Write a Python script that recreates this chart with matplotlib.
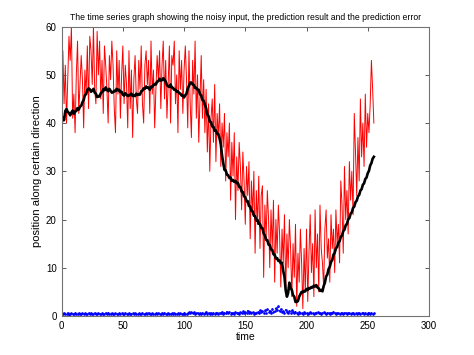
import numpy as np
import matplotlib
matplotlib.use("Agg")
import matplotlib.pyplot as plt

plt.rcParams["font.family"] = ["Liberation Sans", "DejaVu Sans"]

time = np.arange(256)

# noisy input (red)
noisy = [
    47, 55, 44, 52, 40, 49, 58, 53, 60, 41, 46, 38, 50, 57, 42, 48,
    54, 49, 39, 51, 46, 56, 43, 58, 55, 48, 60, 47, 44, 59, 50, 57,
    45, 53, 42, 56, 52, 47, 40, 54, 49, 57, 52, 43, 38, 55, 46, 53,
    41, 50, 56, 44, 52, 48, 39, 55, 43, 51, 37, 49, 54, 45, 42, 53,
    47, 56, 44, 40, 52, 55, 48, 53, 42, 57, 46, 51, 39, 47, 54, 49,
    55, 43, 52, 57, 45, 53, 41, 48, 56, 40, 54, 52, 57, 44, 50, 38,
    55, 47, 53, 42, 51, 56, 49, 39, 55, 44, 37, 53, 46, 57, 41, 50,
    36, 45, 54, 41, 49, 38, 47, 34, 44, 30, 41, 45, 36, 48, 32, 42,
    37, 44, 31, 40, 35, 42, 28, 38, 33, 40, 24, 36, 29, 38, 20, 33,
    26, 36, 31, 22, 34, 28, 19, 31, 25, 32, 16, 28, 21, 30, 13, 26,
    19, 29, 14, 25, 27, 8, 23, 16, 26, 20, 10, 22, 14, 24, 7, 20,
    13, 23, 17, 6, 18, 11, 21, 5, 17, 10, 20, 14, 4, 15, 8, 19,
    2, 13, 7, 18, 11, 1.5, 14, 5, 18, 3, 13, 21, 9, 15, 4, 22,
    10, 17, 5, 23, 14, 11, 6, 18, 22, 12, 16, 7, 21, 14, 18, 9,
    22, 15, 19, 11, 28, 23, 13, 31, 20, 26, 17, 32, 24, 30, 21, 42,
    34, 25, 37, 28, 45, 33, 40, 31, 46, 35, 42, 38, 44, 53, 47, 40,
]

# prediction result (black)
prediction = [
    40.0, 41.2, 40.6, 42.5, 42.9, 42.3, 42.1, 41.6, 42.2, 42.6, 41.9, 42.4, 42.5, 43.1, 42.8, 43.4,
    43.6, 44.3, 44.8, 45.8, 46.0, 46.9, 47.2, 47.0, 46.5, 46.7, 47.1, 46.3, 46.1, 45.4, 45.6, 45.5,
    46.2, 46.4, 47.0, 46.8, 47.4, 46.9, 46.6, 47.1, 46.7, 46.3, 46.4, 46.7, 46.6, 47.1, 46.8, 46.9,
    46.4, 46.5, 45.9, 45.7, 46.2, 45.9, 45.6, 45.7, 45.9, 46.1, 45.6, 45.8, 45.6, 46.1, 45.8, 46.0,
    45.9, 46.6, 46.7, 47.2, 47.1, 47.6, 47.3, 47.4, 46.9, 47.5, 47.5, 47.9, 48.1, 48.0, 48.6, 48.7,
    49.2, 48.8, 48.9, 49.3, 49.0, 48.6, 47.9, 47.6, 47.5, 48.0, 47.3, 47.3, 46.9, 46.9, 46.5, 46.6,
    46.2, 46.1, 45.7, 45.7, 45.3, 45.8, 46.1, 47.2, 47.7, 48.4, 48.4, 48.0, 47.9, 47.3, 47.3, 46.9,
    46.9, 46.0, 45.7, 44.8, 44.6, 43.8, 43.1, 41.8, 41.4, 40.3, 40.2, 39.3, 39.2, 38.4, 38.5, 37.8,
    37.7, 36.8, 35.6, 33.3, 31.7, 30.3, 30.2, 29.3, 29.2, 28.6, 28.7, 28.0, 28.2, 27.8, 28.0, 27.5,
    27.6, 26.8, 26.7, 25.8, 25.7, 24.8, 24.6, 23.8, 23.8, 22.8, 22.7, 21.8, 21.7, 20.8, 20.7, 19.8,
    19.9, 19.1, 19.1, 18.3, 18.2, 17.1, 16.7, 15.8, 15.7, 14.8, 14.7, 13.8, 13.7, 12.8, 12.7, 11.9,
    12.0, 11.4, 11.5, 10.9, 11.0, 9.3, 8.1, 5.3, 4.0, 4.8, 6.9, 5.8, 5.4, 4.3, 4.0, 2.9,
    2.9, 3.1, 4.0, 4.5, 5.0, 4.9, 5.2, 5.1, 5.6, 5.4, 5.8, 5.7, 6.0, 5.9, 6.3, 6.1,
    6.4, 5.9, 5.7, 5.2, 5.4, 5.1, 6.2, 6.9, 8.2, 8.6, 9.7, 10.2, 11.2, 11.6, 12.7, 13.1,
    14.0, 14.3, 15.2, 15.5, 16.4, 16.7, 17.6, 17.9, 18.8, 19.1, 20.0, 20.3, 21.2, 21.5, 22.4, 22.7,
    23.6, 23.9, 24.8, 25.1, 26.0, 26.3, 27.2, 27.5, 28.4, 28.7, 29.6, 30.1, 31.2, 31.7, 32.6, 33.0,
]

# prediction error (blue)
error = [
    0.6, 0.5, 0.7, 0.4, 0.5, 0.6, 0.3, 0.5, 0.6, 0.4, 0.5, 0.7, 0.4, 0.5, 0.6, 0.4,
    0.5, 0.6, 0.4, 0.7, 0.5, 0.4, 0.6, 0.5, 0.7, 0.4, 0.5, 0.6, 0.4, 0.5, 0.7, 0.5,
    0.4, 0.6, 0.5, 0.4, 0.6, 0.5, 0.7, 0.4, 0.5, 0.6, 0.4, 0.5, 0.6, 0.5, 0.4, 0.6,
    0.5, 0.7, 0.4, 0.5, 0.6, 0.4, 0.5, 0.6, 0.5, 0.4, 0.6, 0.5, 0.7, 0.4, 0.5, 0.6,
    0.4, 0.5, 0.6, 0.5, 0.4, 0.6, 0.5, 0.7, 0.5, 0.4, 0.6, 0.5, 0.4, 0.6, 0.5, 0.7,
    0.5, 0.4, 0.6, 0.5, 0.7, 0.4, 0.5, 0.6, 0.5, 0.4, 0.6, 0.5, 0.7, 0.5, 0.4, 0.6,
    0.5, 0.6, 0.4, 0.5, 0.7, 0.5, 0.4, 0.6, 0.8, 0.7, 0.9, 0.6, 0.8, 0.5, 0.7, 0.6,
    0.5, 0.6, 0.4, 0.7, 0.5, 0.6, 0.8, 0.5, 0.6, 0.4, 0.7, 0.5, 0.6, 0.5, 0.7, 0.6,
    0.5, 0.7, 0.6, 0.8, 0.5, 0.7, 0.6, 0.9, 0.6, 0.8, 0.5, 0.7, 0.6, 0.5, 0.8, 0.6,
    0.7, 0.5, 0.9, 0.6, 1.0, 0.7, 0.8, 0.6, 1.1, 0.7, 0.9, 0.6, 0.8, 0.5, 0.7, 0.6,
    0.9, 0.7, 1.3, 0.8, 1.0, 0.6, 1.2, 0.7, 1.5, 0.9, 1.1, 0.7, 1.4, 0.8, 1.0, 1.7,
    1.2, 2.1, 1.0, 1.4, 0.8, 1.1, 0.7, 1.3, 0.9, 0.6, 1.0, 0.7, 1.2, 0.8, 0.6, 0.9,
    0.7, 0.5, 0.8, 0.6, 0.7, 0.5, 0.8, 0.6, 0.7, 0.5, 0.6, 0.8, 0.6, 0.7, 0.5, 0.6,
    0.7, 0.8, 0.6, 0.7, 0.5, 0.6, 0.8, 0.6, 0.5, 0.7, 0.6, 0.5, 0.7, 0.6, 0.8, 0.6,
    0.5, 0.7, 0.6, 0.5, 0.7, 0.6, 0.5, 0.7, 0.6, 0.5, 0.6, 0.7, 0.5, 0.6, 0.7, 0.5,
    0.6, 0.5, 0.7, 0.6, 0.5, 0.6, 0.7, 0.5, 0.6, 0.5, 0.7, 0.6, 0.5, 0.6, 0.5, 0.6,
]

fig = plt.figure(figsize=(4.74, 3.55), dpi=100)
ax = fig.add_axes([0.13, 0.11, 0.775, 0.815])

ax.plot(time, noisy, color="red", linewidth=0.7)
ax.plot(time, prediction, color="black", linewidth=1.9)
ax.plot(time, error, color="blue", linestyle=":", marker=".", markersize=1.8, linewidth=0.9)

ax.set_xlim(0, 300)
ax.set_ylim(0, 60)
ax.set_xticks(range(0, 301, 50))
ax.set_yticks(range(0, 61, 10))
ax.tick_params(direction="in", top=True, right=True, labelsize=7, length=3, width=0.6, colors="0.25")
ax.tick_params(labelcolor="black")
for sp in ax.spines.values():
    sp.set_color("0.45")
    sp.set_linewidth(0.8)

ax.set_title("The time series graph showing the noisy input, the prediction result and the prediction error",
             fontsize=6.2, pad=5)
ax.set_xlabel("time", fontsize=7.5, labelpad=1)
ax.set_ylabel("position along certain direction", fontsize=8, labelpad=3)

fig.savefig("out.png", dpi=100)
